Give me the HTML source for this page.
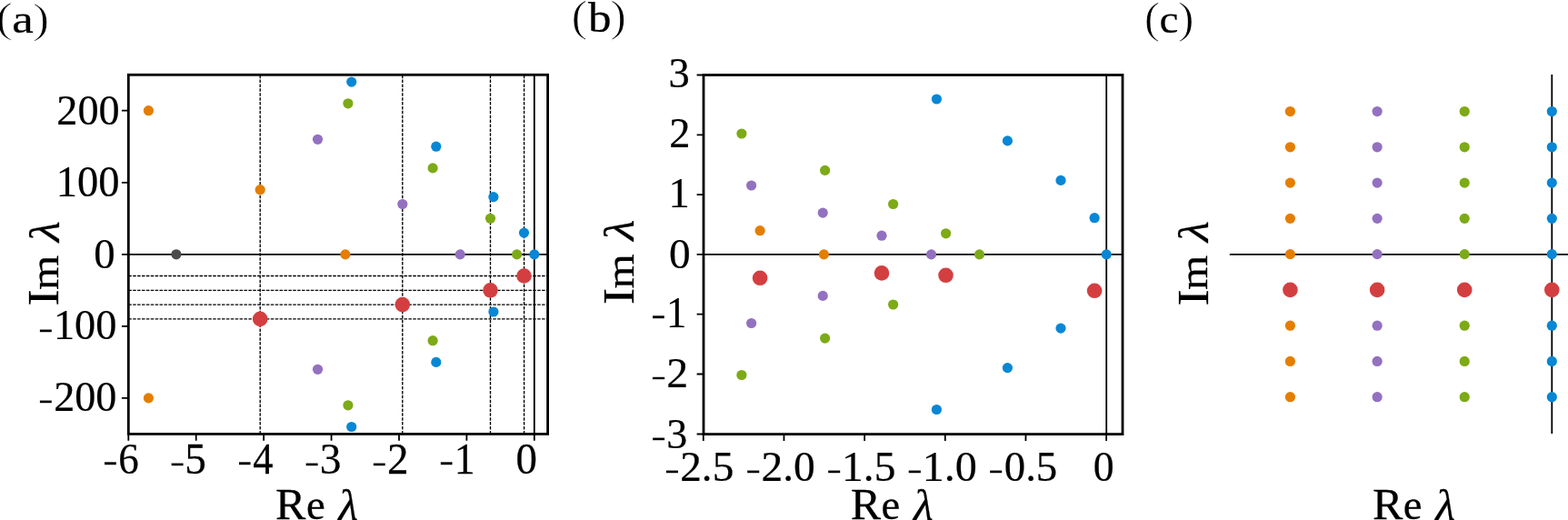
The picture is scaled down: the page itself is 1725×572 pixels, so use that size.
<!DOCTYPE html>
<html><head><meta charset="utf-8"><title>Eigenvalue spectra</title>
<style>html,body{margin:0;padding:0;background:#fff;overflow:hidden}svg{display:block}</style></head>
<body><svg width="1725" height="572" viewBox="0 0 1725 572">
<rect width="1725" height="572" fill="#fff"/>
<g stroke="#000" fill="none">
<line x1="286.2" y1="477.4" x2="286.2" y2="82.3" stroke-width="1.35" stroke-dasharray="3.5 1.39"/>
<line x1="442.8" y1="477.4" x2="442.8" y2="82.3" stroke-width="1.35" stroke-dasharray="3.5 1.39"/>
<line x1="539.5" y1="477.4" x2="539.5" y2="82.3" stroke-width="1.35" stroke-dasharray="3.5 1.39"/>
<line x1="576.6" y1="477.4" x2="576.6" y2="82.3" stroke-width="1.35" stroke-dasharray="3.5 1.39"/>
<line x1="141.3" y1="303.5" x2="602.6" y2="303.5" stroke-width="1.35" stroke-dasharray="3.5 1.39"/>
<line x1="141.3" y1="319.3" x2="602.6" y2="319.3" stroke-width="1.35" stroke-dasharray="3.5 1.39"/>
<line x1="141.3" y1="335.1" x2="602.6" y2="335.1" stroke-width="1.35" stroke-dasharray="3.5 1.39"/>
<line x1="141.3" y1="350.9" x2="602.6" y2="350.9" stroke-width="1.35" stroke-dasharray="3.5 1.39"/>
<line x1="141.3" y1="279.9" x2="602.6" y2="279.9" stroke-width="1.8"/>
<line x1="587.8" y1="477.4" x2="587.8" y2="82.3" stroke-width="1.8"/>
<line x1="774.0" y1="279.9" x2="1235.0" y2="279.9" stroke-width="1.8"/>
<line x1="1217.2" y1="477.6" x2="1217.2" y2="82.5" stroke-width="1.8"/>
<line x1="1352.8" y1="279.9" x2="1726" y2="279.9" stroke-width="1.8"/>
<line x1="1707.3" y1="476.9" x2="1707.3" y2="82.0" stroke-width="1.8"/>
</g>
<circle cx="163.4" cy="121.7" r="5.6" fill="#E47E00"/>
<circle cx="163.4" cy="437.9" r="5.6" fill="#E47E00"/>
<circle cx="286.2" cy="208.7" r="5.6" fill="#E47E00"/>
<circle cx="379.9" cy="279.9" r="5.6" fill="#E47E00"/>
<circle cx="193.9" cy="279.8" r="5.6" fill="#4B4B4B"/>
<circle cx="349.5" cy="153.3" r="5.6" fill="#9371C0"/>
<circle cx="349.5" cy="406.3" r="5.6" fill="#9371C0"/>
<circle cx="442.8" cy="224.5" r="5.6" fill="#9371C0"/>
<circle cx="506.2" cy="279.9" r="5.6" fill="#9371C0"/>
<circle cx="382.9" cy="113.8" r="5.6" fill="#7DAA17"/>
<circle cx="382.9" cy="445.8" r="5.6" fill="#7DAA17"/>
<circle cx="476.1" cy="184.9" r="5.6" fill="#7DAA17"/>
<circle cx="476.1" cy="374.7" r="5.6" fill="#7DAA17"/>
<circle cx="539.5" cy="240.3" r="5.6" fill="#7DAA17"/>
<circle cx="568.6" cy="279.9" r="5.6" fill="#7DAA17"/>
<circle cx="386.7" cy="90.1" r="5.6" fill="#0787D5"/>
<circle cx="386.7" cy="469.5" r="5.6" fill="#0787D5"/>
<circle cx="479.8" cy="161.2" r="5.6" fill="#0787D5"/>
<circle cx="479.8" cy="398.4" r="5.6" fill="#0787D5"/>
<circle cx="542.9" cy="216.6" r="5.6" fill="#0787D5"/>
<circle cx="542.9" cy="343.0" r="5.6" fill="#0787D5"/>
<circle cx="576.5" cy="256.1" r="5.6" fill="#0787D5"/>
<circle cx="587.8" cy="279.9" r="5.6" fill="#0787D5"/>
<circle cx="286.2" cy="350.9" r="8.3" fill="#D33F40"/>
<circle cx="442.8" cy="335.1" r="8.3" fill="#D33F40"/>
<circle cx="539.5" cy="319.3" r="8.3" fill="#D33F40"/>
<circle cx="576.5" cy="303.5" r="8.3" fill="#D33F40"/>
<circle cx="815.9" cy="147.0" r="5.6" fill="#7DAA17"/>
<circle cx="815.9" cy="412.5" r="5.6" fill="#7DAA17"/>
<circle cx="907.6" cy="187.4" r="5.6" fill="#7DAA17"/>
<circle cx="907.6" cy="372.1" r="5.6" fill="#7DAA17"/>
<circle cx="982.6" cy="224.5" r="5.6" fill="#7DAA17"/>
<circle cx="982.6" cy="335.0" r="5.6" fill="#7DAA17"/>
<circle cx="1040.6" cy="256.8" r="5.6" fill="#7DAA17"/>
<circle cx="1077.5" cy="279.9" r="5.6" fill="#7DAA17"/>
<circle cx="826.6" cy="204.0" r="5.6" fill="#9371C0"/>
<circle cx="826.6" cy="355.5" r="5.6" fill="#9371C0"/>
<circle cx="905.2" cy="234.1" r="5.6" fill="#9371C0"/>
<circle cx="905.2" cy="325.4" r="5.6" fill="#9371C0"/>
<circle cx="970.0" cy="259.2" r="5.6" fill="#9371C0"/>
<circle cx="1024.5" cy="279.9" r="5.6" fill="#9371C0"/>
<circle cx="836.1" cy="253.7" r="5.6" fill="#E47E00"/>
<circle cx="906.4" cy="279.9" r="5.6" fill="#E47E00"/>
<circle cx="1030.4" cy="109.0" r="5.6" fill="#0787D5"/>
<circle cx="1030.4" cy="450.5" r="5.6" fill="#0787D5"/>
<circle cx="1108.4" cy="154.9" r="5.6" fill="#0787D5"/>
<circle cx="1108.4" cy="404.6" r="5.6" fill="#0787D5"/>
<circle cx="1167.0" cy="198.4" r="5.6" fill="#0787D5"/>
<circle cx="1167.0" cy="361.1" r="5.6" fill="#0787D5"/>
<circle cx="1204.1" cy="239.7" r="5.6" fill="#0787D5"/>
<circle cx="1217.2" cy="279.9" r="5.6" fill="#0787D5"/>
<circle cx="836.1" cy="305.8" r="8.3" fill="#D33F40"/>
<circle cx="970.0" cy="300.4" r="8.3" fill="#D33F40"/>
<circle cx="1040.5" cy="302.8" r="8.3" fill="#D33F40"/>
<circle cx="1204.1" cy="319.8" r="8.3" fill="#D33F40"/>
<circle cx="1419.4" cy="122.55" r="5.6" fill="#E47E00"/>
<circle cx="1515.1" cy="122.55" r="5.6" fill="#9371C0"/>
<circle cx="1611.2" cy="122.55" r="5.6" fill="#7DAA17"/>
<circle cx="1707.3" cy="122.55" r="5.6" fill="#0787D5"/>
<circle cx="1419.4" cy="161.82" r="5.6" fill="#E47E00"/>
<circle cx="1515.1" cy="161.82" r="5.6" fill="#9371C0"/>
<circle cx="1611.2" cy="161.82" r="5.6" fill="#7DAA17"/>
<circle cx="1707.3" cy="161.82" r="5.6" fill="#0787D5"/>
<circle cx="1419.4" cy="201.09" r="5.6" fill="#E47E00"/>
<circle cx="1515.1" cy="201.09" r="5.6" fill="#9371C0"/>
<circle cx="1611.2" cy="201.09" r="5.6" fill="#7DAA17"/>
<circle cx="1707.3" cy="201.09" r="5.6" fill="#0787D5"/>
<circle cx="1419.4" cy="240.36" r="5.6" fill="#E47E00"/>
<circle cx="1515.1" cy="240.36" r="5.6" fill="#9371C0"/>
<circle cx="1611.2" cy="240.36" r="5.6" fill="#7DAA17"/>
<circle cx="1707.3" cy="240.36" r="5.6" fill="#0787D5"/>
<circle cx="1419.4" cy="279.63" r="5.6" fill="#E47E00"/>
<circle cx="1515.1" cy="279.63" r="5.6" fill="#9371C0"/>
<circle cx="1611.2" cy="279.63" r="5.6" fill="#7DAA17"/>
<circle cx="1707.3" cy="279.63" r="5.6" fill="#0787D5"/>
<circle cx="1419.4" cy="318.9" r="8.3" fill="#D33F40"/>
<circle cx="1515.1" cy="318.9" r="8.3" fill="#D33F40"/>
<circle cx="1611.2" cy="318.9" r="8.3" fill="#D33F40"/>
<circle cx="1707.3" cy="318.9" r="8.3" fill="#D33F40"/>
<circle cx="1419.4" cy="358.17" r="5.6" fill="#E47E00"/>
<circle cx="1515.1" cy="358.17" r="5.6" fill="#9371C0"/>
<circle cx="1611.2" cy="358.17" r="5.6" fill="#7DAA17"/>
<circle cx="1707.3" cy="358.17" r="5.6" fill="#0787D5"/>
<circle cx="1419.4" cy="397.44" r="5.6" fill="#E47E00"/>
<circle cx="1515.1" cy="397.44" r="5.6" fill="#9371C0"/>
<circle cx="1611.2" cy="397.44" r="5.6" fill="#7DAA17"/>
<circle cx="1707.3" cy="397.44" r="5.6" fill="#0787D5"/>
<circle cx="1419.4" cy="436.71" r="5.6" fill="#E47E00"/>
<circle cx="1515.1" cy="436.71" r="5.6" fill="#9371C0"/>
<circle cx="1611.2" cy="436.71" r="5.6" fill="#7DAA17"/>
<circle cx="1707.3" cy="436.71" r="5.6" fill="#0787D5"/>
<g stroke="#000" fill="none">
<rect x="141.3" y="82.3" width="461.30" height="395.10" stroke-width="2.8" stroke-linejoin="miter"/>
<rect x="774.0" y="82.5" width="461.00" height="395.10" stroke-width="2.8" stroke-linejoin="miter"/>
<path d="M141.30 121.70H133.90M141.30 200.80H133.90M141.30 279.80H133.90M141.30 358.80H133.90M141.30 437.90H133.90M141.30 477.40V484.80M215.72 477.40V484.80M290.14 477.40V484.80M364.56 477.40V484.80M438.98 477.40V484.80M513.40 477.40V484.80M587.82 477.40V484.80M774.00 82.50H766.60M774.00 148.30H766.60M774.00 214.10H766.60M774.00 279.90H766.60M774.00 345.70H766.60M774.00 411.50H766.60M774.00 477.50H766.60M773.80 477.60V485.00M862.46 477.60V485.00M951.12 477.60V485.00M1039.78 477.60V485.00M1128.44 477.60V485.00M1217.10 477.60V485.00" stroke-width="1.8"/>
</g>
<g font-family='"Liberation Serif", serif' font-size="48" fill="#000">
<text transform="translate(13.27 36.04) scale(1.1050 0.9136)"><tspan x="-16.02" y="-0.64" font-size="50.04" stroke="#fff" stroke-width="1.0">(</tspan><tspan x="0.00" y="0.00" stroke="#000" stroke-width="0.25">a</tspan><tspan x="20.36" y="-0.53" font-size="50.52" stroke="#fff" stroke-width="1.0">)</tspan></text>
<text transform="translate(646.92 34.71) scale(1.0641 0.9589)"><tspan x="-17.23" y="-0.72" font-size="50.17" stroke="#fff" stroke-width="1.0">(</tspan><tspan x="0.00" y="0.00" stroke="#000" stroke-width="0.25">b</tspan><tspan x="22.76" y="-0.70" font-size="50.25" stroke="#fff" stroke-width="1.0">)</tspan></text>
<text transform="translate(1275.48 36.34) scale(0.9786 0.9136)"><tspan x="-17.20" y="-0.12" font-size="53.03" stroke="#fff" stroke-width="1.0">(</tspan><tspan x="0.00" y="0.00" stroke="#000" stroke-width="0.25">c</tspan><tspan x="20.92" y="0.11" font-size="53.96" stroke="#fff" stroke-width="1.0">)</tspan></text>
<text transform="translate(62.28 137.30) scale(0.9627 0.9799)" stroke="#000" stroke-width="0.25">200</text>
<text transform="translate(61.77 216.30) scale(0.9700 0.9985)" stroke="#000" stroke-width="0.25">100</text>
<text transform="translate(103.28 294.80) scale(0.9763 0.9830)" stroke="#000" stroke-width="0.25">0</text>
<text transform="translate(58.89 373.30) scale(0.9654 0.9861)"><tspan x="-18.58" y="3.42" font-size="57.97" stroke="#fff" stroke-width="1.6">-</tspan><tspan x="0.00" y="0.00" stroke="#000" stroke-width="0.25">100</tspan></text>
<text transform="translate(59.18 452.00) scale(0.9613 0.9830)"><tspan x="-18.96" y="3.44" font-size="58.18" stroke="#fff" stroke-width="1.6">-</tspan><tspan x="0.00" y="0.00" stroke="#000" stroke-width="0.25">200</tspan></text>
<text transform="translate(130.22 520.60) scale(0.9375 0.9935)"><tspan x="-19.31" y="3.65" font-size="58.61" stroke="#fff" stroke-width="1.6">-</tspan><tspan x="0.00" y="0.00" stroke="#000" stroke-width="0.25">6</tspan></text>
<text transform="translate(203.33 520.59) scale(0.9832 1.0009)"><tspan x="-17.79" y="3.36" font-size="57.01" stroke="#fff" stroke-width="1.6">-</tspan><tspan x="0.00" y="0.00" stroke="#000" stroke-width="0.25">5</tspan></text>
<text transform="translate(278.36 521.08) scale(0.9286 1.0085)"><tspan x="-19.62" y="3.30" font-size="58.44" stroke="#fff" stroke-width="1.6">-</tspan><tspan x="0.00" y="0.00" stroke="#000" stroke-width="0.25">4</tspan></text>
<text transform="translate(351.70 520.60) scale(0.9846 0.9935)"><tspan x="-18.29" y="3.32" font-size="57.19" stroke="#fff" stroke-width="1.6">-</tspan><tspan x="0.00" y="0.00" stroke="#000" stroke-width="0.25">3</tspan></text>
<text transform="translate(426.04 521.08) scale(0.9799 1.0085)"><tspan x="-18.53" y="2.93" font-size="56.89" stroke="#fff" stroke-width="1.6">-</tspan><tspan x="0.00" y="0.00" stroke="#000" stroke-width="0.25">2</tspan></text>
<text transform="translate(499.83 521.08) scale(0.9536 1.0085)"><tspan x="-18.69" y="3.11" font-size="57.67" stroke="#fff" stroke-width="1.6">-</tspan><tspan x="0.00" y="0.00" stroke="#000" stroke-width="0.25">1</tspan></text>
<text transform="translate(567.48 520.69) scale(0.9763 1.0015)" stroke="#000" stroke-width="0.25">0</text>
<text transform="translate(735.43 95.60) scale(0.9697 0.9810)" stroke="#000" stroke-width="0.25">3</text>
<text transform="translate(736.17 161.57) scale(0.9645 0.9643)" stroke="#000" stroke-width="0.25">2</text>
<text transform="translate(735.56 227.97) scale(0.9712 0.9517)" stroke="#000" stroke-width="0.25">1</text>
<text transform="translate(735.97 295.21) scale(0.9859 0.9738)" stroke="#000" stroke-width="0.25">0</text>
<text transform="translate(733.01 360.27) scale(0.9360 0.9927)"><tspan x="-19.10" y="3.18" font-size="58.67" stroke="#fff" stroke-width="1.6">-</tspan><tspan x="0.00" y="0.00" stroke="#000" stroke-width="0.25">1</tspan></text>
<text transform="translate(733.31 426.07) scale(0.9954 0.9738)"><tspan x="-18.45" y="2.68" font-size="57.45" stroke="#fff" stroke-width="1.6">-</tspan><tspan x="0.00" y="0.00" stroke="#000" stroke-width="0.25">2</tspan></text>
<text transform="translate(733.15 492.61) scale(0.9598 0.9779)"><tspan x="-18.77" y="3.43" font-size="58.38" stroke="#fff" stroke-width="1.6">-</tspan><tspan x="0.00" y="0.00" stroke="#000" stroke-width="0.25">3</tspan></text>
<text transform="translate(748.24 528.56) scale(0.9832 0.9892)"><tspan x="-18.57" y="3.55" font-size="57.35" stroke="#fff" stroke-width="1.6">-</tspan><tspan x="0.00" y="0.00" stroke="#000" stroke-width="0.25">2.5</tspan></text>
<text transform="translate(837.53 528.57) scale(0.9885 0.9819)"><tspan x="-18.52" y="3.48" font-size="57.41" stroke="#fff" stroke-width="1.6">-</tspan><tspan x="0.00" y="0.00" stroke="#000" stroke-width="0.25">2.0</tspan></text>
<text transform="translate(926.10 528.56) scale(0.9873 0.9892)"><tspan x="-18.17" y="3.52" font-size="57.23" stroke="#fff" stroke-width="1.6">-</tspan><tspan x="0.00" y="0.00" stroke="#000" stroke-width="0.25">1.5</tspan></text>
<text transform="translate(1014.74 528.57) scale(1.0020 0.9819)"><tspan x="-17.95" y="3.39" font-size="57.02" stroke="#fff" stroke-width="1.6">-</tspan><tspan x="0.00" y="0.00" stroke="#000" stroke-width="0.25">1.0</tspan></text>
<text transform="translate(1104.79 528.57) scale(0.9737 0.9819)"><tspan x="-19.00" y="3.59" font-size="57.84" stroke="#fff" stroke-width="1.6">-</tspan><tspan x="0.00" y="0.00" stroke="#000" stroke-width="0.25">0.5</tspan></text>
<text transform="translate(1202.73 528.80) scale(0.9520 0.9892)" stroke="#000" stroke-width="0.25">0</text>
<text transform="translate(303.07 570.63) scale(1.0417 1.0099)"><tspan x="0.00" y="0.00" stroke="#000" stroke-width="0.25">R</tspan><tspan x="32.46" y="0.45" font-size="44.92" stroke="#000" stroke-width="0.25">e </tspan><tspan x="66.53" y="1.22" font-size="48.01" font-style="italic" stroke="#000" stroke-width="0.25">λ</tspan></text>
<text transform="translate(935.78 570.63) scale(1.0417 1.0099)"><tspan x="0.00" y="0.00" stroke="#000" stroke-width="0.25">R</tspan><tspan x="32.46" y="0.45" font-size="44.92" stroke="#000" stroke-width="0.25">e </tspan><tspan x="66.53" y="1.22" font-size="48.01" font-style="italic" stroke="#000" stroke-width="0.25">λ</tspan></text>
<text transform="translate(1509.88 570.63) scale(1.0417 1.0099)"><tspan x="0.00" y="0.00" stroke="#000" stroke-width="0.25">R</tspan><tspan x="32.46" y="0.45" font-size="44.92" stroke="#000" stroke-width="0.25">e </tspan><tspan x="66.53" y="1.22" font-size="48.01" font-style="italic" stroke="#000" stroke-width="0.25">λ</tspan></text>
<text transform="translate(64.08 336.48) rotate(-90) scale(1.1360 1.0035)"><tspan x="0.00" y="0.00" stroke="#000" stroke-width="0.25">I</tspan><tspan x="15.32" y="-0.18" font-size="43.23" stroke="#000" stroke-width="0.25">m </tspan><tspan x="61.94" y="0.64" font-size="46.75" font-style="italic" stroke="#000" stroke-width="0.25">λ</tspan></text>
<text transform="translate(696.78 334.98) rotate(-90) scale(1.1360 1.0035)"><tspan x="0.00" y="0.00" stroke="#000" stroke-width="0.25">I</tspan><tspan x="15.32" y="-0.18" font-size="43.23" stroke="#000" stroke-width="0.25">m </tspan><tspan x="61.94" y="0.64" font-size="46.75" font-style="italic" stroke="#000" stroke-width="0.25">λ</tspan></text>
<text transform="translate(1328.58 336.48) rotate(-90) scale(1.1360 1.0035)"><tspan x="0.00" y="0.00" stroke="#000" stroke-width="0.25">I</tspan><tspan x="15.32" y="-0.18" font-size="43.23" stroke="#000" stroke-width="0.25">m </tspan><tspan x="61.94" y="0.64" font-size="46.75" font-style="italic" stroke="#000" stroke-width="0.25">λ</tspan></text>
</g>
</svg></body></html>
